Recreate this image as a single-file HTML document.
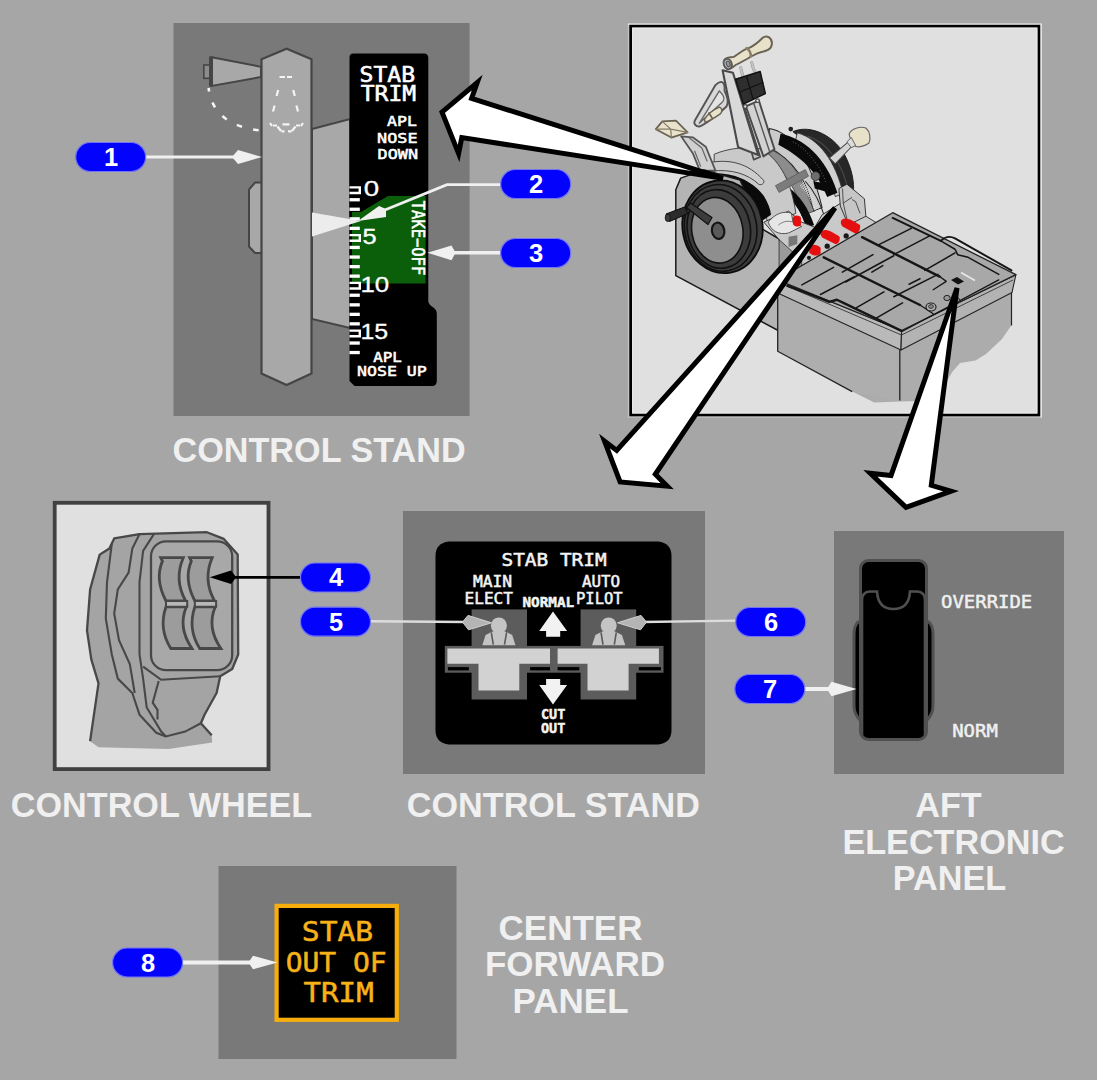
<!DOCTYPE html>
<html lang="en">
<head>
<meta charset="utf-8">
<title>Stabilizer Trim Controls</title>
<style>
html,body{margin:0;padding:0;background:#a6a6a6;}
body{width:1097px;height:1080px;overflow:hidden;}
svg{display:block;}
.mono{font-family:"DejaVu Sans Mono","Liberation Mono",monospace;}
.hd{font-family:"Liberation Sans",Arial,sans-serif;font-weight:bold;font-size:34.2px;fill:#f0f0f0;}
.num{font-family:"Liberation Sans",Arial,sans-serif;font-weight:bold;font-size:25.5px;fill:#ffffff;text-anchor:middle;}
.pill{fill:#0202fd;stroke:#7474f4;stroke-width:1.2;}
.ptr{stroke:#f0f0f0;stroke-width:3;fill:none;}
.ah{fill:#f0f0f0;stroke:none;}
.big{fill:#ffffff;stroke:#000000;stroke-width:5;stroke-linejoin:miter;}
</style>
</head>
<body>
<svg width="1097" height="1080" viewBox="0 0 1097 1080">
<rect x="0" y="0" width="1097" height="1080" fill="#a6a6a6"/>

<!-- ===================== PANEL 1 : CONTROL STAND (trim indicator) ===================== -->
<g id="p1">
<rect x="173.5" y="23" width="296.1" height="393" fill="#797979"/>
<!-- body behind lever -->
<polygon points="262,182.5 255,182.5 249,189.5 249,246.5 255,253 262,253" fill="#a8a8a8" stroke="#454545" stroke-width="2"/>
<polygon points="312,129 350,119 350,328 312,319" fill="#a8a8a8" stroke="#454545" stroke-width="2"/>
<!-- handle -->
<polygon points="211.7,57.2 261,66.8 261,77 211.7,85.9" fill="#a8a8a8" stroke="#454545" stroke-width="2"/>
<rect x="203.8" y="65" width="6" height="13.3" fill="#8c8c8c" stroke="#454545" stroke-width="1.6"/>
<rect x="209" y="56.5" width="4" height="30" fill="#454545"/>
<!-- dashed arc -->
<path d="M208.6,88 Q213,125 260,130.5" fill="none" stroke="#f4f4f4" stroke-width="2.6" stroke-dasharray="5.5,11.5" stroke-dashoffset="2"/>
<!-- lever -->
<polygon points="261.5,59.3 286.6,48.7 311.5,59.3 311.5,373.5 286.6,385 261.5,373.5" fill="#a8a8a8" stroke="#454545" stroke-width="2.2"/>
<!-- dashed phantom shape -->
<g fill="none" stroke="#f4f4f4" stroke-width="2.2">
<path d="M279.5,77 H285 M287,77 H292"/>
<path d="M278.2,90 L276.6,96 M293.2,90 L294.8,96 M274.6,105.5 L273,111.5 M296.4,105.5 L298,111.5"/>
<path d="M270,123 L272,126 M273,125.5 H277 M277.5,126.5 L281,131 M281.5,131.3 H284.5 M288,131.3 H291.5 M292,131 L295.5,126.5 M296,125.5 H300 M301,126 L303,123 M282.5,124.3 H289.5"/>
</g>
<!-- black indicator -->
<path d="M353.5,53.5 H424 Q428.3,53.5 428.3,58 V302 L430,305 L434,308 Q436.8,310 436.8,314 V381 Q436.8,386 432,386 H354.5 L349.5,381 V57.5 Q349.5,53.5 353.5,53.5 Z" fill="#000"/>
<!-- green band -->
<polygon points="361,212 388,196 425.6,196 425.6,283.6 352,283.6 352,212" fill="#0b5f0b"/>
<!-- ticks -->
<g fill="#ffffff">
<path d="M349.5,186.2 H361 V194.2 H349.5 V191.8 H358.6 V188.6 H349.5 Z"/>
<rect x="349.5" y="198.1" width="10.3" height="3.3"/>
<rect x="349.5" y="207.6" width="10.3" height="3.3"/>
<rect x="349.5" y="217.2" width="10.3" height="3.3"/>
<rect x="349.5" y="226.7" width="10.3" height="3.3"/>
<path d="M349.5,233.9 H361 V241.9 H349.5 V239.5 H358.6 V236.3 H349.5 Z"/>
<rect x="349.5" y="245.8" width="10.3" height="3.3"/>
<rect x="349.5" y="255.4" width="10.3" height="3.3"/>
<rect x="349.5" y="265.0" width="10.3" height="3.3"/>
<rect x="349.5" y="274.5" width="10.3" height="3.3"/>
<path d="M349.5,281.7 H361 V289.7 H349.5 V287.3 H358.6 V284.1 H349.5 Z"/>
<rect x="349.5" y="293.6" width="10.3" height="3.3"/>
<rect x="349.5" y="303.2" width="10.3" height="3.3"/>
<rect x="349.5" y="312.7" width="10.3" height="3.3"/>
<rect x="349.5" y="322.2" width="10.3" height="3.3"/>
<path d="M349.5,329.4 H361 V337.4 H349.5 V335.1 H358.6 V331.8 H349.5 Z"/>
<rect x="349.5" y="341.4" width="10.3" height="3.3"/>
<rect x="349.5" y="350.9" width="10.3" height="3.3"/>
</g>
<!-- pointer -->
<polygon points="312,212.5 361,221 312,236.5" fill="#ececec"/>
<g class="mono" fill="#ffffff" stroke="#ffffff" stroke-width="0.55">
<text x="359.6" y="81.7" font-size="20.6" textLength="55.4" lengthAdjust="spacingAndGlyphs">STAB</text>
<text x="360.7" y="100.6" font-size="20.7" textLength="55.4" lengthAdjust="spacingAndGlyphs">TRIM</text>
<text x="387.1" y="126.2" font-size="14.5" textLength="29.8" lengthAdjust="spacingAndGlyphs">APL</text>
<text x="377.1" y="143.4" font-size="14.5" textLength="40.4" lengthAdjust="spacingAndGlyphs">NOSE</text>
<text x="377.6" y="158.9" font-size="14.5" textLength="40.4" lengthAdjust="spacingAndGlyphs">DOWN</text>
<text x="363.7" y="196.1" font-size="22.1" textLength="15.4" lengthAdjust="spacingAndGlyphs" style="font-family:'Liberation Sans',sans-serif" stroke-width="0.3">0</text>
<text x="362.6" y="244.4" font-size="22.3" textLength="14.1" lengthAdjust="spacingAndGlyphs" style="font-family:'Liberation Sans',sans-serif" stroke-width="0.3">5</text>
<text x="360.4" y="291.7" font-size="22.2" textLength="28.8" lengthAdjust="spacingAndGlyphs" style="font-family:'Liberation Sans',sans-serif" stroke-width="0.3">10</text>
<text x="360.4" y="338.9" font-size="22.2" textLength="27.7" lengthAdjust="spacingAndGlyphs" style="font-family:'Liberation Sans',sans-serif" stroke-width="0.3">15</text>
<text x="373.2" y="361.8" font-size="13.9" textLength="28.6" lengthAdjust="spacingAndGlyphs">APL</text>
<text x="357.1" y="376.1" font-size="14.4" textLength="69.7" lengthAdjust="spacingAndGlyphs">NOSE UP</text>
<text transform="translate(412.3,201.7) rotate(90)" x="-0.9" y="0" font-size="17.3" textLength="74.4" lengthAdjust="spacingAndGlyphs">TAKE−OFF</text>
</g>
</g>
<text class="hd" x="172.5" y="462">CONTROL STAND</text>

<!-- ===================== ILLUSTRATION ===================== -->
<g id="ill">
<rect x="627.8" y="23.4" width="414.2" height="394.2" fill="#c2c2c2"/>
<path d="M627.8,23.4 H1042 V417.6 H1040.4 V25 H627.8 Z" fill="#e2e2e2"/>
<rect x="630.7" y="26.2" width="408.1" height="388.7" fill="#e0e0e0" stroke="#000" stroke-width="2.8"/>
<rect x="632.6" y="28.1" width="404.3" height="384.9" fill="none" stroke="#ececec" stroke-width="1"/>
<g stroke-linejoin="round">
<!-- quadrant (drawn in zoom coords of region 720,120 scale 6.856) -->
<g transform="translate(720,120) scale(0.14586)" stroke-linejoin="round">
<!-- right dark wheel -->
<path d="M500,80 C620,25 800,110 870,270 C905,350 920,420 915,500 L835,530 C825,390 760,230 590,150 Z" fill="#272727" stroke="#111" stroke-width="6"/>
<path d="M600,110 C730,150 850,300 880,500" fill="none" stroke="#4a4a4a" stroke-width="8"/>
<!-- light band -->
<path d="M530,88 C680,130 790,280 845,505 L790,525 C760,365 680,235 515,150 Z" fill="#d0d0d0" stroke="#333" stroke-width="6"/>
<!-- flap lever -->
<path d="M750,260 L880,150 L905,180 L790,300 Z" fill="#d4d4d4" stroke="#444" stroke-width="7"/>
<path d="M885,95 C900,60 960,40 1000,55 C1030,80 1035,130 1020,160 C990,180 950,190 930,180 C900,150 890,130 885,95 Z" fill="#e8e1c9" stroke="#666" stroke-width="8"/>
<path d="M870,150 L900,120 L930,175 L900,190 Z" fill="#dcdcdc" stroke="#555" stroke-width="6"/>
<!-- upper black toothed arc -->


<circle cx="485" cy="62" r="16" fill="#222"/>
<!-- second housing light arc -->
<path d="M340,58 C470,80 610,225 700,600 L640,625 C600,425 520,285 325,182 Z" fill="#cbcbcb" stroke="#222" stroke-width="7"/>
<path d="M415,95 C570,125 725,250 805,498 L735,528 C680,390 590,270 400,170 Z" fill="#0a0a0a"/>
<path d="M500,150 C600,200 700,320 750,500" fill="none" stroke="#666" stroke-width="8" stroke-dasharray="5,16"/>
<!-- medium-gray band -->
<path d="M280,188 C400,200 520,300 585,480 L645,625 L560,655 C540,485 440,335 285,262 Z" fill="#8c8c8c" stroke="#333" stroke-width="5"/>
<!-- lower black toothed arc -->
<path d="M470,462 C545,515 605,600 645,720 L592,742 C562,642 520,572 448,505 Z" fill="#0a0a0a"/>
<path d="M560,440 C620,500 660,580 690,690" fill="none" stroke="#e0e0e0" stroke-width="36" stroke-dasharray="5,9"/>
<path d="M585,420 C650,490 690,570 722,680" fill="none" stroke="#222" stroke-width="7"/>
<!-- center body -->
<path d="M-40,235 C60,190 200,180 290,200 C420,290 490,430 520,640 L330,720 C300,560 200,430 -40,400 Z" fill="#c9c9c9" stroke="#333" stroke-width="6"/>
<!-- black crescent -->
<path d="M-60,370 C80,350 230,420 300,520 C330,570 345,610 350,650 L290,690 C260,560 150,450 -60,430 Z" fill="#0a0a0a"/>
<!-- outer housing band with rounded end -->
<path d="M-60,290 C60,270 190,290 300,415 C305,435 285,450 265,440 C190,370 80,335 -60,350 Z" fill="#cdcdcd" stroke="#333" stroke-width="6"/>
<!-- gray bar + pivot -->
<path d="M380,450 L585,340 L607,385 L405,497 Z" fill="#7c7c7c" stroke="#555" stroke-width="5"/>
<circle cx="655" cy="385" r="30" fill="#6e6e6e" stroke="#333" stroke-width="6"/>
<path d="M640,420 L760,440 L760,500 L650,470 Z" fill="#0a0a0a"/>
</g>
<!-- levers (zoom coords of region 650,30 scale 7.714) -->
<g transform="translate(650,30) scale(0.12963)" stroke-linejoin="round" stroke-linecap="round">
<!-- right thrust lever -->
<path d="M740,590 L840,545 L960,920 L875,975 Z" fill="#d2d2d2" stroke="#4a4a4a" stroke-width="14.9"/>
<path d="M800,565 L925,945" fill="none" stroke="#555" stroke-width="10.8"/>
<path d="M730,600 L850,980 L800,1000 L690,620 Z" fill="#c6c6c6" stroke="#4a4a4a" stroke-width="13.5"/>
<!-- left thrust lever -->
<path d="M560,310 L640,330 L835,965 L680,905 Z" fill="#d9d9d9" stroke="#4a4a4a" stroke-width="16.2"/>
<!-- rods -->
<path d="M700,290 C705,320 715,350 725,385 M785,250 C790,280 800,310 815,335" fill="none" stroke="#8a8a8a" stroke-width="22.0"/>
<path d="M700,290 C705,320 715,350 725,385 M785,250 C790,280 800,310 815,335" fill="none" stroke="#c4c4c4" stroke-width="16.2"/>
<!-- black block -->
<path d="M660,380 L850,320 L890,490 L720,572 Z" fill="#2e2e2e" stroke="#111" stroke-width="10.8"/>
<path d="M745,355 L795,535 M690,480 L870,405" fill="none" stroke="#111" stroke-width="9.5"/>
<circle cx="735" cy="590" r="14" fill="#ddd" stroke="#444" stroke-width="9.5"/><circle cx="830" cy="545" r="14" fill="#ddd" stroke="#444" stroke-width="9.5"/>
<!-- top handle -->
<path d="M578,225 C600,205 625,215 650,205 C690,180 720,150 760,140 C800,125 830,100 870,60 C900,35 945,60 940,110 C935,150 900,160 860,170 C820,180 800,195 770,210 C730,235 700,250 660,270 C640,285 620,305 598,300 C570,290 560,250 578,225 Z" fill="#e9e2cb" stroke="#6a6353" stroke-width="14.9"/>
<path d="M745,140 C765,150 780,180 778,205" fill="none" stroke="#8a8068" stroke-width="18.9"/>
<ellipse cx="600" cy="262" rx="30" ry="40" fill="#c9c9c9" stroke="#5a5a5a" stroke-width="14.9" transform="rotate(-20 600 262)"/>
<ellipse cx="603" cy="262" rx="14" ry="22" fill="#9a9a9a" stroke="#5a5a5a" stroke-width="9.5" transform="rotate(-20 603 262)"/>
<!-- reverse lever -->
<path d="M345,700 C335,720 350,745 380,745 C420,730 520,660 590,590 C610,560 600,520 575,470 C580,430 570,400 545,400 C525,405 515,415 505,425 Z" fill="#d8d8d8" stroke="#555" stroke-width="14.9"/>
<path d="M380,720 L535,470 L560,500 C575,520 570,545 555,560 Z" fill="#e4e4e4" stroke="#666" stroke-width="10.8"/>
<path d="M420,690 C450,640 500,610 535,595 C555,600 560,625 545,645 C510,670 460,700 425,712 Z" fill="#e9e2cb" stroke="#6a6353" stroke-width="10.8"/>
<path d="M455,640 L480,680" stroke="#6a6353" stroke-width="13.5" fill="none"/>
<!-- speedbrake lever -->
<path d="M240,820 L330,828 L430,900 L505,1085 L385,1085 L330,950 Z" fill="#d0d0d0" stroke="#555" stroke-width="13.5"/>
<path d="M300,830 L400,910 L440,1010 M345,935 L390,1050" fill="none" stroke="#666" stroke-width="9.5"/>
<path d="M45,765 L95,705 L200,700 L290,790 L165,830 Z" fill="#e9e2cb" stroke="#6a6353" stroke-width="13.5"/>
<path d="M95,705 L160,765 L290,790 M160,765 L165,830 M45,765 L160,765" fill="none" stroke="#857c66" stroke-width="9.5"/>
</g>
<!-- left block front face -->
<path d="M675.8,189.8 L680.7,178.1 L704,170 L740,180 L762,229 L781,240 L781,332 L675.8,275.6 Z" fill="#b4b4b4" stroke="#1a1a1a" stroke-width="1.5"/>
<!-- switch pedestal (zoom coords) -->
<g transform="translate(720,120) scale(0.14586)" stroke-linejoin="round">
<path d="M300,700 L470,625 L560,700 L650,735 L700,650 L820,575 L1000,660 L1130,740 L1130,800 L560,1090 L440,1000 L405,820 Z" fill="#c9c9c9" stroke="#222" stroke-width="6"/>
<path d="M405,820 L560,960 L560,1160 L405,1230 Z" fill="#9a9a9a" stroke="#222" stroke-width="5"/>
<path d="M470,800 L530,790 L530,850 L470,870 Z" fill="#777"/>
<!-- box-ish housing right -->
<path d="M815,470 L870,440 L990,540 L1000,660 L880,720 L825,590 Z" fill="#c6c6c6" stroke="#222" stroke-width="6"/>
<path d="M840,470 L845,570 L905,530 M845,570 L880,720" fill="none" stroke="#222" stroke-width="5"/>
<path d="M905,545 L930,560 L960,640" fill="none" stroke="#222" stroke-width="5"/>
<!-- guard -->
<path d="M330,700 C380,640 440,620 490,640 L500,700 L560,730 L470,775 C400,790 350,760 330,700 Z" fill="#e6e6e6" stroke="#444" stroke-width="6"/>
<path d="M400,720 C440,690 470,690 500,700" fill="none" stroke="#555" stroke-width="5"/>
<!-- red switches -->
<path d="M500,665 C515,650 545,650 555,670 L555,720 C540,735 515,735 500,715 Z" fill="#e60f0f"/>
<path d="M830,690 C850,665 880,670 960,720 C965,750 950,775 930,780 L840,730 C828,715 826,700 830,690 Z" fill="#e60f0f"/>
<path d="M690,770 C710,745 740,745 820,800 C825,830 810,850 790,850 L700,805 C688,790 686,780 690,770 Z" fill="#e60f0f"/>
<path d="M612,870 C630,850 660,850 690,875 L690,915 C670,935 640,935 612,910 Z" fill="#e60f0f"/>
<circle cx="735" cy="865" r="18" fill="#1a1a1a"/><circle cx="865" cy="795" r="18" fill="#1a1a1a"/><circle cx="610" cy="945" r="14" fill="#1a1a1a"/>
<path d="M775,880 L790,872 M905,805 L920,797 M650,950 L662,943" stroke="#f0f0f0" stroke-width="9"/>
</g>
<!-- left trim wheel -->
<g transform="rotate(-10 722.5 226.8)">
<ellipse cx="722.5" cy="226.8" rx="40" ry="46.5" fill="#3c3c3c" stroke="#0c0c0c" stroke-width="1.8"/>
<ellipse cx="720.5" cy="227.5" rx="36" ry="43.5" fill="none" stroke="#111" stroke-width="1.6"/>
<ellipse cx="718.5" cy="228.3" rx="31.5" ry="39.5" fill="#3c3c3c" stroke="#111" stroke-width="1.6"/>
<ellipse cx="716.8" cy="229.3" rx="25.5" ry="33" fill="#8e8e8e" stroke="#111" stroke-width="1.6"/>
<ellipse cx="717.5" cy="230" rx="6.2" ry="8.2" fill="#5a5a5a" stroke="#151515" stroke-width="2.2"/>
</g>
<polygon points="686.5,207.5 690.5,203 712,217.5 708,224.5" fill="#3c3c3c" stroke="#111" stroke-width="1.2"/>
<polygon points="666,214 684.5,207 688,213.5 669.5,221.5" fill="#2c2c2c" stroke="#0c0c0c" stroke-width="1"/>
<ellipse cx="667.8" cy="217.8" rx="2.6" ry="3.8" fill="#3c3c3c" stroke="#0c0c0c" stroke-width="0.8"/>
<!-- right box : shadow + faces -->
<path d="M901,350 L1011.5,293 L1011.5,325.3 L1001.6,339.6 L986,353.9 L975.6,360.4 L960,363 L952.2,372.1 L941.9,390.3 L926.3,400.7 L899.5,401.5 L874.3,402.5 L852.2,391.6 L860,350 Z" fill="#acacac"/>
<path d="M1011.5,291 V325.5" stroke="#222" stroke-width="1.2" fill="none"/>
<polygon points="777.7,292.9 901,350 899.5,401 852.2,391.6 777.7,351.3" fill="#aeaeae"/>
<path d="M852.2,391.6 L777.7,351.3 L777.7,292.9 M899.8,350 V400.5" stroke="#222" stroke-width="1.3" fill="none"/>
<!-- rim -->
<polygon points="777.4,279.8 901.6,330.5 901,350 777.7,292.9" fill="#b9b9b9" stroke="#222" stroke-width="1.1"/>
<polygon points="901.6,330.5 1015.9,274.7 1012,292.5 901,350" fill="#b3b3b3" stroke="#222" stroke-width="1.1"/>
<!-- top face -->
<polygon points="777.4,279.8 892.7,212.7 1015.9,274.7 901.6,330.5" fill="#a8a8a8" stroke="#222" stroke-width="1.3"/>
<path d="M783,284.5 L901.5,335 L1013,280" fill="none" stroke="#333" stroke-width="0.9"/>
<g id="grid" transform="translate(780,200) scale(0.21877)" fill="none" stroke="#161616" stroke-linecap="round" stroke-linejoin="round">
<path d="M375,170 L730,350 M200,262 L640,480 M35,392 L200,455 L225,466 L260,456 L290,470 L555,598" stroke-width="11"/>
<path d="M515,82 L735,187 C750,170 775,162 800,175 L1058,322" stroke-width="9"/>
<path d="M735,187 L800,225 L812,250 L860,262 L1000,340" stroke-width="7"/>
<path d="M100,388 L245,308 M185,432 L340,350 M285,330 L425,250 M350,492 L475,420 M440,540 L560,470 M520,442 L722,340 M450,205 L600,130 M520,250 L682,165 M662,322 L800,242 M590,385 L640,360 M300,375 L520,255 M420,330 L470,300" stroke-width="7"/>
<path d="M640,480 L700,520 M730,350 L760,372 L700,410 M560,600 L1000,365" stroke-width="6"/>
</g>
<ellipse cx="931" cy="307" rx="5" ry="4" fill="#b0b0b0" stroke="#222" stroke-width="1.2"/><ellipse cx="931" cy="306.5" rx="2.4" ry="1.9" fill="#888" stroke="#222" stroke-width="0.8"/>
<ellipse cx="947" cy="298" rx="3.2" ry="2.6" fill="#999" stroke="#222" stroke-width="1"/><ellipse cx="957" cy="300" rx="2.6" ry="2.2" fill="#999" stroke="#222" stroke-width="1"/>
<polygon points="951,280 957,277 964,281.5 958,284.5" fill="#111"/>
<path d="M961,272.5 L975,280.5" stroke="#e8e8e8" stroke-width="1.6"/>
</g>
</g>

<!-- ===================== CONTROL WHEEL ===================== -->
<g id="wheel">
<rect x="54.7" y="502.8" width="213.8" height="266.3" fill="#e0e0e0" stroke="#404040" stroke-width="3.8"/>
<path d="M114.2,538.4 L139.5,534.1 L206.9,532.2 L223.8,538.9 L237.7,554.6 L238.2,654.5 L232.2,669.0 L220.2,676.2 L216.6,693.0 L204.5,714.7 L200.9,723.2 L211.7,735.2 L212.2,742.4 L168.4,748.9 L98.5,747.2 L90.1,741.2 L98.5,683.4 L91.3,659.3 L87.0,630.4 L90.1,589.5 L99.7,554.6 L109.4,548.5 Z" fill="#a4a4a4" stroke="none"/>
<path d="M200.9,723.2 L204.5,714.7 L216.6,693.0 L220.2,676.2 L232.2,669.0 L238.2,654.5 L237.7,554.6 L223.8,538.9 L206.9,532.2 L139.5,534.1 L114.2,538.4 L109.4,548.5 L99.7,554.6 L90.1,589.5 L87.0,630.4 L91.3,659.3 L98.5,683.4 L90.1,741.2 M200.9,723.2 L211.7,735.2" fill="none" stroke="#484848" stroke-width="2.3" stroke-linejoin="round"/>
<path d="M111.8,543.7 L107.0,582.3 L105.8,618.4 L111.8,654.5 L117.8,678.6 L132.3,693.0 L139.5,714.7 L156.3,732.8 L166.0,736.4" fill="none" stroke="#484848" stroke-width="2.1"/>
<path d="M139.5,534.1 L132.3,548.5 L128.6,572.6 L117.8,589.5 L114.2,613.6 L119.0,640.1 L129.8,664.1 L134.7,693.0" fill="none" stroke="#484848" stroke-width="2.1"/>
<path d="M153.9,534.1 L143.1,550.9 L139.5,582.3 L139.5,654.5 L143.1,678.6 L146.7,707.5 L161.2,731.6 L166.0,736.4 L185.2,731.6 L200.9,723.2" fill="none" stroke="#484848" stroke-width="2.1"/>
<path d="M158.7,681.0 L152.7,702.7 L157.5,709.9 L157.5,719.5" fill="none" stroke="#484848" stroke-width="2.1"/>
<path d="M143.1,666.6 L161.2,679.8 L220.2,676.2" fill="none" stroke="#484848" stroke-width="2.1"/>
<rect x="151.0" y="541.3" width="81.2" height="128.9" rx="15" fill="#a8a8a8" stroke="#484848" stroke-width="2.3"/>
<path d="M160.7,557.7 L183.3,557.7 C176.8,572.6 178.0,587.1 185.7,601.0 L166.0,601.0 C158.7,587.1 157.5,572.6 162.4,561.1 Z" fill="#9c9c9c" stroke="#484848" stroke-width="2.8"/>
<path d="M166.0,606.8 L186.4,606.8 C180.4,620.8 182.8,635.2 192.0,648.5 L170.8,648.5 C162.4,635.2 161.2,620.8 166.0,606.8 Z" fill="#9c9c9c" stroke="#484848" stroke-width="2.8"/>
<path d="M166.0,601.0 L187.2,601.0 L187.2,606.8 L166.0,606.8 Z" fill="#b8b8b8" stroke="#484848" stroke-width="2"/>
<path d="M189.6,557.7 L212.2,557.7 C205.7,572.6 206.9,587.1 214.6,601.0 L194.9,601.0 C187.6,587.1 186.4,572.6 191.3,561.1 Z" fill="#9c9c9c" stroke="#484848" stroke-width="2.8"/>
<path d="M194.9,606.8 L215.3,606.8 C209.3,620.8 211.7,635.2 220.9,648.5 L199.7,648.5 C191.3,635.2 190.1,620.8 194.9,606.8 Z" fill="#9c9c9c" stroke="#484848" stroke-width="2.8"/>
<path d="M194.9,601.0 L216.1,601.0 L216.1,606.8 L194.9,606.8 Z" fill="#b8b8b8" stroke="#484848" stroke-width="2"/>
</g>
<text class="hd" x="10.8" y="817">CONTROL WHEEL</text>

<!-- ===================== CONTROL STAND (cutout switches) ===================== -->
<g id="p2">
<rect x="403" y="511" width="302" height="263" fill="#797979"/>
<path d="M449,541.5 H658 Q671.5,543 671.5,556 V730 Q671.5,743 658,744.5 H449 Q435.5,743 435.5,730 V556 Q435.5,543 449,541.5 Z" fill="#000"/>
<rect x="471.6" y="609.4" width="55.4" height="90.1" fill="#5c5c5c"/>
<rect x="580.6" y="609.4" width="55.6" height="90.1" fill="#5c5c5c"/>
<rect x="444.8" y="645.9" width="218.7" height="26.8" fill="#5c5c5c"/>
<rect x="447.9" y="667.1" width="20.9" height="3.3" fill="#000"/><rect x="530.1" y="667.1" width="19.9" height="3.3" fill="#000"/><rect x="557.6" y="667.1" width="21.7" height="3.3" fill="#000"/><rect x="638.8" y="667.1" width="22.2" height="3.3" fill="#000"/>
<path d="M447.4,648.5 L550.0,648.5 L550.0,663.8 L519.3,663.8 L519.3,690.6 L478.5,690.6 L478.5,663.8 L447.4,663.8 Z" fill="#d2d2d2"/>
<path d="M557.6,648.5 L658.9,648.5 L658.9,663.8 L628.6,663.8 L628.6,690.6 L587.5,690.6 L587.5,663.8 L557.6,663.8 Z" fill="#d2d2d2"/>
<path d="M482.3,645.2 L485.6,634.9 L492.5,631.4 L505.3,631.4 L512.2,634.9 L515.5,645.2 Z" fill="#c4c4c4"/>
<path d="M491.3,632.4 L493.3,644.6 M506.6,632.4 L504.5,644.6" stroke="#5a5a5a" stroke-width="1.6" fill="none"/>
<circle cx="498.9" cy="625.5" r="8" fill="#c4c4c4"/>
<rect x="495.4" y="631.5" width="7" height="6" fill="#c4c4c4"/>
<path d="M592.1,645.2 L595.4,634.9 L602.3,631.4 L615.0,631.4 L621.9,634.9 L625.3,645.2 Z" fill="#c4c4c4"/>
<path d="M601.0,632.4 L603.0,644.6 M616.3,632.4 L614.3,644.6" stroke="#5a5a5a" stroke-width="1.6" fill="none"/>
<circle cx="608.7" cy="625.5" r="8" fill="#c4c4c4"/>
<rect x="605.2" y="631.5" width="7" height="6" fill="#c4c4c4"/>
<path d="M553.0,611.5 L567.1,630.9 L560.2,630.9 L560.2,636.7 L546.1,636.7 L546.1,630.9 L539.2,630.9 Z" fill="#f2f2f2"/>
<path d="M553.0,704.6 L567.1,685.0 L560.2,685.0 L560.2,679.1 L546.1,679.1 L546.1,685.0 L539.2,685.0 Z" fill="#f2f2f2"/>
<g class="mono" fill="#f4f4f4" stroke="#f4f4f4" stroke-width="0.5">
<text x="501.5" y="565.5" font-size="17.4" textLength="105.1" lengthAdjust="spacingAndGlyphs">STAB TRIM</text>
<text x="472.9" y="586.9" font-size="15.4" textLength="39.3" lengthAdjust="spacingAndGlyphs">MAIN</text>
<text x="464.5" y="603.8" font-size="15.5" textLength="48.5" lengthAdjust="spacingAndGlyphs">ELECT</text>
<text x="581.9" y="586.9" font-size="15.4" textLength="38.2" lengthAdjust="spacingAndGlyphs">AUTO</text>
<text x="576.0" y="603.8" font-size="15.5" textLength="46.7" lengthAdjust="spacingAndGlyphs">PILOT</text>
<g font-weight="bold"><text x="522.4" y="606.9" font-size="14.7" textLength="51.8" lengthAdjust="spacingAndGlyphs">NORMAL</text>
<text x="541.0" y="718.9" font-size="14.3" textLength="24.3" lengthAdjust="spacingAndGlyphs">CUT</text>
<text x="541.0" y="732.9" font-size="14.3" textLength="24.3" lengthAdjust="spacingAndGlyphs">OUT</text></g>
</g>
</g>
<text class="hd" x="406.8" y="817">CONTROL STAND</text>

<!-- ===================== AFT ELECTRONIC PANEL ===================== -->
<g id="p3">
<rect x="834" y="531" width="230" height="243" fill="#797979"/>
<path d="M858,622 Q854,626 854,634 V706 Q854,714 860,720 H927 Q933,714 933,706 V634 Q933,626 929,622 Z" fill="#000" stroke="#505050" stroke-width="3"/>
<rect x="860.5" y="560.5" width="66" height="179" rx="8" fill="#000" stroke="#505050" stroke-width="3"/>
<path d="M862,735 V600 Q862,592 870,591.5 H877 Q878,609 893.5,609 Q909,609 910,591.5 H917 Q925,592 925,600 V735" fill="none" stroke="#505050" stroke-width="2.6"/>
<g class="mono" fill="#f0f0f0" stroke="#f0f0f0" stroke-width="0.45">
<text x="941.1" y="608.1" font-size="17.1" textLength="91.1" lengthAdjust="spacingAndGlyphs">OVERRIDE</text>
<text x="952.2" y="737.1" font-size="16.9" textLength="45.6" lengthAdjust="spacingAndGlyphs">NORM</text>
</g>
</g>
<text class="hd" x="948.5" y="817" text-anchor="middle">AFT</text>
<text class="hd" x="953.5" y="854.4" text-anchor="middle">ELECTRONIC</text>
<text class="hd" x="949.5" y="890" text-anchor="middle">PANEL</text>

<!-- ===================== CENTER FORWARD PANEL ===================== -->
<g id="p4">
<rect x="218.5" y="866" width="238" height="193" fill="#797979"/>
<rect x="276.6" y="905.9" width="120.2" height="113.9" fill="#000" stroke="#f7ae0c" stroke-width="4.2"/>
<g class="mono" fill="#f7b21a" stroke="#f7b21a" stroke-width="0.5">
<text x="301.8" y="941.3" font-size="26.3" textLength="71.4" lengthAdjust="spacingAndGlyphs">STAB</text>
<text x="285.7" y="971.5" font-size="26.3" textLength="101.0" lengthAdjust="spacingAndGlyphs">OUT OF</text>
<text x="303.5" y="1001.7" font-size="26.3" textLength="70.2" lengthAdjust="spacingAndGlyphs">TRIM</text>
</g>
</g>
<text class="hd" x="570.5" y="939.8" text-anchor="middle" style="font-size:35px">CENTER</text>
<text class="hd" x="575" y="976" text-anchor="middle" style="font-size:35px">FORWARD</text>
<text class="hd" x="570.5" y="1012.9" text-anchor="middle" style="font-size:35px">PANEL</text>

<!-- ===================== BIG ARROWS ===================== -->
<g id="bigarrows">
<polygon class="big" points="442.0,112.1 477.2,82.6 471.6,98.3 723.0,178.4 461.8,137.6 458.6,153.6"/>
<polygon class="big" points="835.0,207.8 655.3,474.3 667.2,486.2 620.1,482.0 604.5,441.1 616.7,450.4"/>
<polygon class="big" points="957.0,288.0 931.3,485.3 951.0,491.2 906.0,507.4 870.3,473.3 891.0,475.5"/>
</g>

<!-- ===================== POINTERS ===================== -->
<g id="pointers">
<line x1="146" y1="157" x2="236" y2="157" stroke="#f0f0f0" stroke-width="3"/>
<polygon points="262,157 238,150 232,157 238,164" fill="#f0f0f0"/>
<polyline points="501,184.6 447,184.6 380,212" fill="none" stroke="#f0f0f0" stroke-width="2.8"/>
<polygon points="358,221 379,206 386,209 386,217" fill="#f0f0f0"/>
<line x1="501" y1="252.8" x2="452" y2="252.8" stroke="#f0f0f0" stroke-width="3.5"/>
<polygon points="427.5,252.8 451.5,245.4 455.5,252.8 451.5,260.2" fill="#f0f0f0"/>
<line x1="301" y1="577.3" x2="232" y2="577.3" stroke="#000" stroke-width="2.8"/>
<polygon points="209.8,577.3 231,570.6 236.3,577.3 231,584" fill="#000"/>
<line x1="371" y1="621.2" x2="466" y2="622" stroke="#dcdcdc" stroke-width="2.4"/>
<polygon points="491.5,622.8 468,615.4 462.5,622.1 468.5,629.8" fill="#b4b4b4" stroke="#d0d0d0" stroke-width="1"/>
<line x1="736" y1="620.6" x2="643" y2="622" stroke="#dcdcdc" stroke-width="2.4"/>
<polygon points="617.5,622.8 641,615.4 646.5,622.1 640.5,629.8" fill="#b4b4b4" stroke="#d0d0d0" stroke-width="1"/>
<line x1="805" y1="689" x2="830" y2="689" stroke="#f0f0f0" stroke-width="4"/>
<polygon points="856.5,689 831.5,681.8 827,689 831.5,696.2" fill="#f0f0f0"/>
<line x1="183" y1="962.5" x2="252" y2="962.5" stroke="#f0f0f0" stroke-width="4.2"/>
<polygon points="277.5,962.5 253,955.8 248.5,962.5 253,969.2" fill="#f0f0f0"/>
</g>
<!-- ===================== PILLS ===================== -->
<g id="labels">
<rect class="pill" x="75.7" y="142.5" width="70" height="29" rx="14.5"/><text class="num" x="111" y="166.4">1</text>
<rect class="pill" x="500.7" y="169.5" width="70" height="29" rx="14.5"/><text class="num" x="536" y="193.4">2</text>
<rect class="pill" x="500.7" y="238.5" width="70" height="29" rx="14.5"/><text class="num" x="536" y="262.4">3</text>
<rect class="pill" x="300.5" y="563" width="70" height="29" rx="14.5"/><text class="num" x="336" y="586.4">4</text>
<rect class="pill" x="300.5" y="607.2" width="70" height="29" rx="14.5"/><text class="num" x="336" y="631.4">5</text>
<rect class="pill" x="735.7" y="607.5" width="70" height="29" rx="14.5"/><text class="num" x="771" y="631.4">6</text>
<rect class="pill" x="734.8" y="674.5" width="70" height="29" rx="14.5"/><text class="num" x="770" y="698.4">7</text>
<rect class="pill" x="112.6" y="948" width="70" height="29" rx="14.5"/><text class="num" x="148" y="971.9">8</text>
</g>
</svg>
</body>
</html>
